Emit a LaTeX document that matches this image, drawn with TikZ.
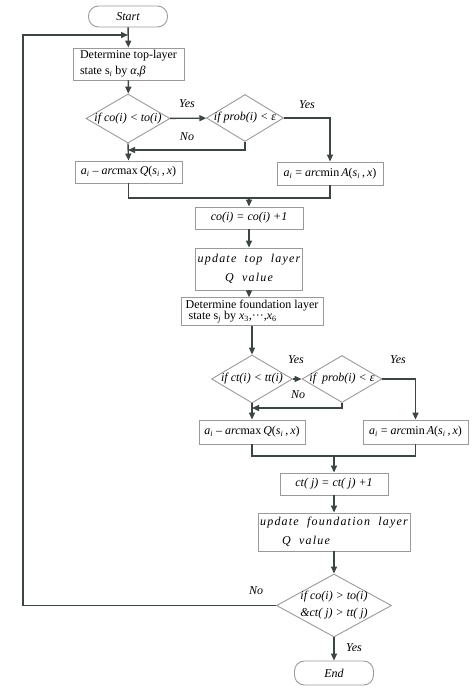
\documentclass[tikz,border=0pt]{standalone}
\usepackage{fontspec}
\setmainfont{Liberation Serif}
\newfontfamily\widefont{Liberation Serif}[LetterSpace=10]
\usetikzlibrary{arrows.meta,shapes.geometric}
\definecolor{boxgray}{HTML}{9A9A9A}
\definecolor{linegray}{HTML}{3D4444}
\newcommand{\sub}[1]{\textsubscript{\textit{#1}}}
\newcommand{\basesize}{\fontsize{12}{14}\selectfont}
\tikzset{
  box/.style={draw=boxgray,line width=0.9pt,rectangle,inner sep=2pt,align=center},
  term/.style={draw=boxgray,line width=0.9pt,rectangle,rounded corners=10pt,font=\basesize\itshape},
  decision/.style={draw=boxgray,line width=0.9pt,diamond,inner sep=0pt,font=\basesize\itshape},
  flow/.style={draw=linegray,line width=1.4pt,-{Triangle[length=7pt,width=6pt]}},
  link/.style={draw=linegray,line width=1.4pt},
  tag/.style={font=\basesize\itshape}
}

\begin{document}
\begin{tikzpicture}[x=1pt,y=-1pt,font=\basesize]
  \useasboundingbox (0,0) rectangle (474,694);

  \node[term,minimum width=79pt,minimum height=21pt] (start) at (128,16.5) {Start};
  \node[box,align=left,minimum width=111pt,minimum height=32pt,font=\fontsize{12}{16}\selectfont] (top state) at (128.5,64)
    {Determine top-layer\\state s\sub{i} by \textit{α},\textit{β}};
  \node[decision,minimum width=84pt,minimum height=49pt] (top check) at (128,118.5) {\makebox[0pt]{if co(i) < to(i)}};
  \node[decision,minimum width=77pt,minimum height=47pt] (top prob) at (245,118) {\makebox[0pt]{if\ prob(i) < ε}};
  \node[box,minimum width=107pt,minimum height=22pt] (top max) at (128.5,172)
    {\textit{a}\sub{i} – \textit{arc}max\,\textit{Q}(\textit{s}\sub{i}\,,\,\textit{x})};
  \node[box,minimum width=106pt,minimum height=23pt] (top min) at (330,173.5)
    {\textit{a}\sub{i} = \textit{arc}min\,\textit{A}(\textit{s}\sub{i}\,,\,\textit{x})};
  \node[box,minimum width=108pt,minimum height=22pt,font=\basesize\itshape] (top inc) at (249,218) {co(i) = co(i) +1};
  \node[box,minimum width=101pt,minimum height=42pt,font=\widefont\itshape\fontsize{12}{19}\selectfont] (top update) at (249,269)
    {update\ \ top\ \ layer\\Q\ \ value};
  \node[box,align=left,minimum width=142pt,minimum height=24pt,font=\fontsize{12}{11.5}\selectfont] (found state) at (252,311.5)
    {Determine foundation layer\\\ state s\sub{j} by \textit{x}\textsubscript{3},···,\textit{x}\textsubscript{6}};
  \node[decision,minimum width=81pt,minimum height=48pt] (found check) at (252,379) {\makebox[0pt]{if ct(i) < tt(i)}};
  \node[decision,minimum width=80pt,minimum height=47pt] (found prob) at (342,379) {\makebox[0pt]{if\ \ prob(i) < ε}};
  \node[box,minimum width=106pt,minimum height=24pt] (found max) at (252,432)
    {\textit{a}\sub{i} – \textit{arc}max\,\textit{Q}(\textit{s}\sub{i}\,,\,\textit{x})};
  \node[box,minimum width=105pt,minimum height=24pt] (found min) at (415.5,432)
    {\textit{a}\sub{i} = \textit{arc}min\,\textit{A}(\textit{s}\sub{i}\,,\,\textit{x})};
  \node[box,minimum width=108pt,minimum height=22pt,font=\basesize\itshape] (found inc) at (334,484) {ct( j) = ct( j) +1};
  \node[box,align=left,minimum width=152pt,minimum height=38pt,font=\widefont\itshape\fontsize{12}{19}\selectfont] (found update) at (334,532)
    {update\ \ foundation\ \ layer\\\hspace{22pt}Q\ \ value};
  \node[decision,minimum width=115pt,minimum height=63pt] (last check) at (334,605.5)
    {\makebox[0pt]{\begin{tabular}{@{}c@{}}if co(i) > to(i)\\[3pt]\&ct( j) > tt( j)\end{tabular}}};
  \node[term,minimum width=79pt,minimum height=24pt] (end) at (334,673) {End};

  \coordinate (loop corner) at (23,35);
  \coordinate (top no) at (0,150);
  \coordinate (top join) at (249,198);
  \coordinate (found no) at (0,408);
  \coordinate (found join) at (334,456);

  \draw[flow] (start) -- (top state);
  \draw[flow] (last check.west) -| (loop corner) -- (loop corner -| start.south);
  \draw[flow] (top state) -- (top check);
  \draw[flow] (top check) -- (top prob);
  \draw[flow] (top prob.east) -| (top min.north);
  \draw[flow] (top prob.south) |- (top check.south |- top no);
  \draw[flow] (top check.south) -- (top max.north);
  \draw[link] (top max.south) |- (top join);
  \draw[link] (top min.south) |- (top join);
  \draw[flow] (top join) -- (top inc);
  \draw[flow] (top inc) -- (top update);
  \draw[flow] (top update.south) -- (top update.south |- found state.north);
  \draw[flow] (found state) -- (found check);
  \draw[flow] (found check) -- (found prob);
  \draw[flow] (found prob.east) -| (found min.north);
  \draw[flow] (found prob.south) |- (found check.south |- found no);
  \draw[flow] (found check.south) -- (found max.north);
  \draw[link] (found max.south) |- (found join);
  \draw[link] (found min.south) |- (found join);
  \draw[flow] (found join) -- (found inc);
  \draw[flow] (found inc) -- (found update);
  \draw[flow] (found update) -- (last check);
  \draw[flow] (last check) -- (end);

  \node[tag] (yes 1) at (187,104) {Yes};
  \node[tag] (yes 2) at (307,105) {Yes};
  \node[tag] (no 1) at (187,137) {No};
  \node[tag] (yes 3) at (296,360) {Yes};
  \node[tag] (yes 4) at (398,360) {Yes};
  \node[tag] (no 2) at (298,395) {No};
  \node[tag] (no 3) at (256,591) {No};
  \node[tag] (yes 5) at (354,648) {Yes};
\end{tikzpicture}
\end{document}
